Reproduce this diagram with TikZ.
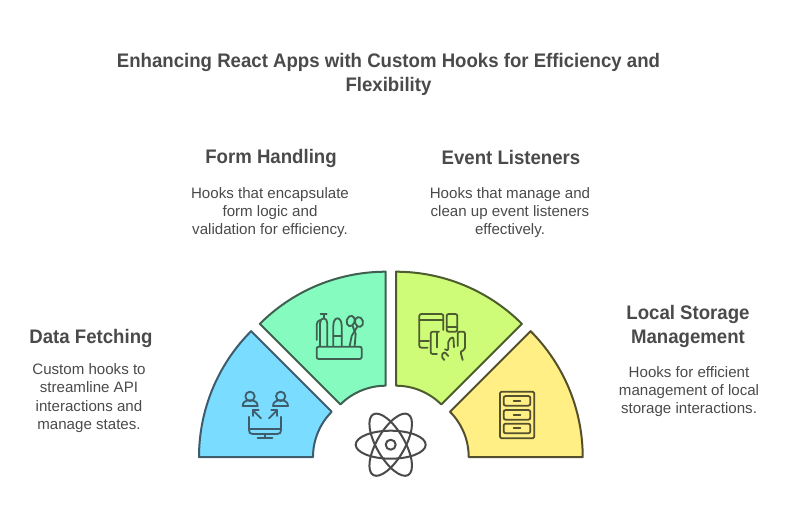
\documentclass[tikz,border=0pt]{standalone}
\usepackage{fontspec}
\setmainfont{Liberation Sans}
\newfontfamily\headfont[FakeStretch=0.95]{Liberation Sans}
\definecolor{inkgray}{HTML}{4A4A4A}
\definecolor{bluefill}{HTML}{7ADCFF}
\definecolor{greenfill}{HTML}{85FBC0}
\definecolor{limefill}{HTML}{CFFC78}
\definecolor{yellowfill}{HTML}{FFEF85}
\definecolor{bluedark}{HTML}{3F5C6C}
\definecolor{greendark}{HTML}{3F5F50}
\definecolor{limedark}{HTML}{4C5C2E}
\definecolor{yellowdark}{HTML}{544F2C}
\tikzset{
  sector/.style={line width=2pt, line join=round},
  icon/.style={line width=1.8pt, line cap=round, line join=round},
  titletext/.style={text=inkgray, align=center, font=\headfont\fontsize{19.6}{24}\selectfont\bfseries},
  headtext/.style={text=inkgray, align=center, font=\headfont\fontsize{19.6}{24}\selectfont\bfseries},
  desctext/.style={text=inkgray, align=center, font=\fontsize{15.1}{18.3}\selectfont}
}
% center, first angle, fill, stroke
\newcommand{\drawsector}[4]{%
  \draw[sector, shift={(#1)}, fill=#3, draw=#4] (#2:178)
    arc[start angle=#2, delta angle=45, radius=178]
    -- ({#2+45}:64) arc[start angle={#2+45}, delta angle=-45, radius=64] -- cycle;}
\begin{document}
\begin{tikzpicture}[x=1pt, y=-1pt]
  \useasboundingbox (0,0) rectangle (794,530);

  % Title
  \node[titletext] (title) at (388.5,74) {Enhancing React Apps with Custom Hooks for Efficiency and\\Flexibility};

  % Labels
  \node[headtext] (formhead) at (271,158.5) {Form Handling};
  \node[desctext] (formdesc) at (270,212.5) {Hooks that encapsulate\\form logic and\\validation for efficiency.};
  \node[headtext] (eventhead) at (511,157) {Event Listeners};
  \node[desctext] (eventdesc) at (510,212.5) {Hooks that manage and\\clean up event listeners\\effectively.};
  \node[headtext] (datahead) at (91,338) {Data Fetching};
  \node[desctext] (datadesc) at (89,398) {Custom hooks to\\streamline API\\interactions and\\manage states.};
  \node[headtext] (storagehead) at (688,326.5) {Local Storage\\Management};
  \node[desctext] (storagedesc) at (689,391.5) {Hooks for efficient\\management of local\\storage interactions.};

  % Sectors
  \drawsector{377,457}{180}{bluefill}{bluedark}
  \drawsector{385.7,449.7}{225}{greenfill}{greendark}
  \drawsector{396,449.7}{270}{limefill}{limedark}
  \drawsector{404.7,457}{315}{yellowfill}{yellowdark}

  % Atom
  \begin{scope}[shift={(390.7,444.7)}, icon, draw=inkgray, line width=2pt]
    \draw (0,0) circle[radius=5];
    \foreach \ang in {0,60,120}
      \draw[rotate=\ang] (0,0) circle[x radius=35, y radius=14];
  \end{scope}

  % Data fetching icon
  \begin{scope}[shift={(190,260)}, x=1/3*1pt, y=-1/3*1pt, icon, draw=bluedark]
    \draw (180,409) circle[radius=14];
    \draw (272,409) circle[radius=14];
    \draw (158,438) -- (203,438) .. controls (203,425) and (192,421) .. (180,421) .. controls (168,421) and (158,425) .. (158,438) -- cycle;
    \draw (249,438) -- (294,438) .. controls (294,425) and (284,421) .. (272,421) .. controls (260,421) and (249,425) .. (249,438) -- cycle;
    \draw (213,475) -- (188,450);
    \draw (188,468) -- (188,450) -- (206,450);
    \draw (237,475) -- (262,450);
    \draw (244,450) -- (262,450) -- (262,468);
    \draw (177,470) -- (177,510) .. controls (177,518) and (180,522) .. (188,522) -- (262,522) .. controls (270,522) and (273,518) .. (273,510) -- (273,470);
    \draw (177,506) -- (273,506);
    \draw (225,522) -- (225,533);
    \draw (203,533) -- (247,533);
  \end{scope}

  % Form handling icon
  \begin{scope}[shift={(190,260)}, x=1/3*1pt, y=-1/3*1pt, icon, draw=greendark]
    \draw[rounded corners=2pt] (380,260) rectangle (515,297);
    \draw (392,163) -- (410,163);
    \draw (401,163) -- (401,175);
    \draw (390,258) -- (390,190) .. controls (390,181) and (395,175) .. (401,175) .. controls (407,175) and (412,181) .. (412,190) -- (412,258);
    \draw (380,240) -- (380,195) .. controls (380,187) and (384,182) .. (390,180);
    \draw (430,258) -- (430,197) .. controls (430,183) and (436,175) .. (442,175) .. controls (449,175) and (455,183) .. (455,197) -- (455,258);
    \draw (430,228) -- (455,228);
    \draw[rotate around={-15:(482,183)}] (482,183) circle[x radius=12, y radius=16];
    \draw[rotate around={15:(507,186)}] (507,186) circle[x radius=12, y radius=15];
    \draw (488,198) -- (497,222) -- (494,258);
    \draw (502,200) -- (485,228) -- (479,258);
  \end{scope}

  % Event listeners icon
  \begin{scope}[shift={(385,260)}, x=1/3*1pt, y=-1/3*1pt, icon, draw=limedark]
    \draw[rounded corners=2pt] (175,210) -- (175,162) -- (103,162) -- (103,263) -- (128,263);
    \draw (103,180) -- (175,180);
    \draw (103,243) -- (132,243);
    \draw[rounded corners=2pt] (185,162) rectangle (217,215);
    \draw (185,200) -- (217,200);
    \draw[rounded corners=2pt] (162,215) -- (137,215) -- (137,282) -- (156,282);
    \draw (156,217) -- (156,262);
    \draw[rounded corners=2pt] (178,300) -- (168,288) -- (178,275) -- (190,288);
    \draw[rounded corners=2pt] (180,268) -- (190,272) -- (190,240) -- (205,230) -- (207,262);
    \draw[rounded corners=2pt] (218,258) -- (218,215) -- (240,215) -- (240,270) -- (226,274) -- (233,300);
  \end{scope}

  % Local storage icon
  \begin{scope}[shift={(385,260)}, x=1/3*1pt, y=-1/3*1pt, icon, draw=yellowdark]
    \draw[rounded corners=1.5pt] (345,395) rectangle (448,535);
    \foreach \ytop in {408,450,491} {
      \draw[rounded corners=2pt] (356,\ytop) rectangle (436,\ytop+29);
      \draw (386,\ytop+14) -- (406,\ytop+14);
    }
  \end{scope}
\end{tikzpicture}
\end{document}
